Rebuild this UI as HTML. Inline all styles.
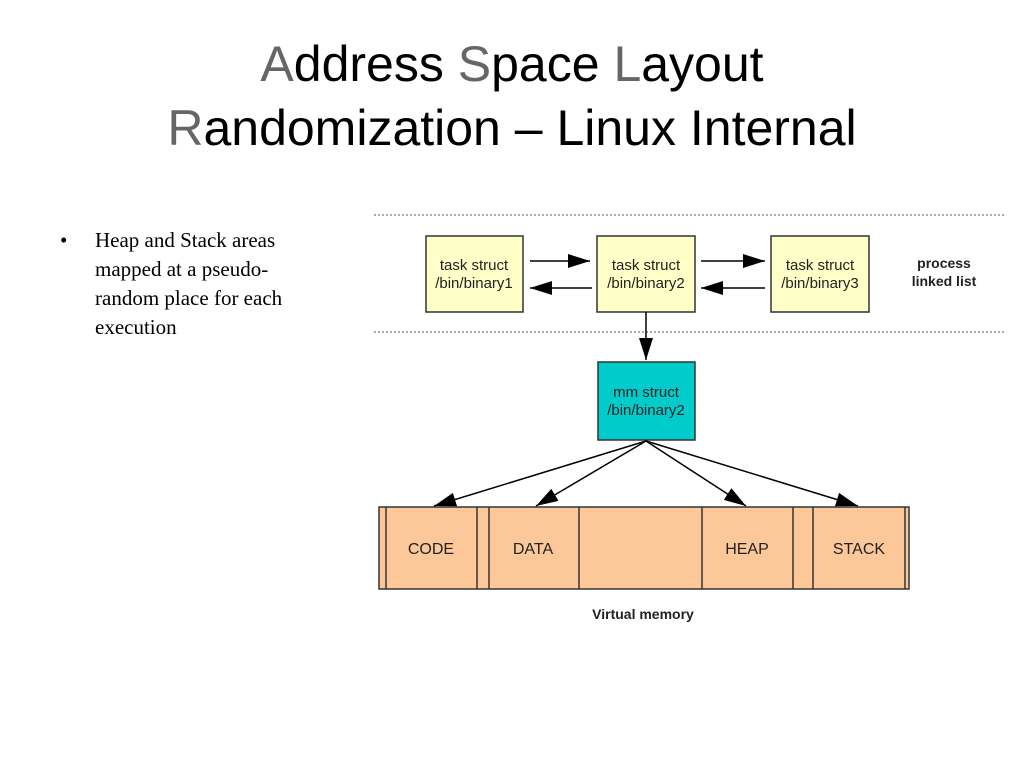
<!DOCTYPE html>
<html><head><meta charset="utf-8"><style>
body{margin:0;width:1024px;height:768px;background:#fff;position:relative;overflow:hidden;font-family:"Liberation Sans",sans-serif}
.t{position:absolute;left:0;width:1024px;text-align:center;font-size:50px;color:#000;line-height:62px}
.g{color:#666}
.b{position:absolute;left:60px;top:226px;font-family:"Liberation Serif",serif;font-size:21px;line-height:29px;color:#000}
</style></head><body>
<div class="t" style="top:33px"><span class="g">A</span>ddress <span class="g">S</span>pace <span class="g">L</span>ayout</div>
<div class="t" style="top:97px"><span class="g">R</span>andomization – Linux Internal</div>
<div class="b">•</div>
<div class="b" style="left:95px">Heap and Stack areas<br>mapped at a pseudo-<br>random place for each<br>execution</div>
<svg width="1024" height="768" style="position:absolute;left:0;top:0" font-family="Liberation Sans, sans-serif">
<defs><marker id="a" markerWidth="10" markerHeight="8" refX="10" refY="4" orient="auto" markerUnits="userSpaceOnUse"><path d="M0,0L10,4L0,8z" fill="#000"/></marker>
<marker id="b" markerWidth="22" markerHeight="14" refX="22" refY="7" orient="auto" markerUnits="userSpaceOnUse"><path d="M0,0L22,7L0,14z" fill="#000"/></marker></defs>
<line x1="374" y1="215" x2="1005" y2="215" stroke="#555" stroke-dasharray="2,2"/>
<line x1="374" y1="332" x2="1005" y2="332" stroke="#555" stroke-dasharray="2,2"/>
<g stroke="#333" stroke-width="1.5" fill="#ffffc8">
<rect x="426" y="236" width="97" height="76"/><rect x="597" y="236" width="98" height="76"/><rect x="771" y="236" width="98" height="76"/>
<rect x="598" y="362" width="97" height="78" fill="#00cccc"/></g>
<g font-size="15" fill="#222" text-anchor="middle">
<text x="474" y="270">task struct</text><text x="474" y="288">/bin/binary1</text>
<text x="646" y="270">task struct</text><text x="646" y="288">/bin/binary2</text>
<text x="820" y="270">task struct</text><text x="820" y="288">/bin/binary3</text>
<text x="646" y="397">mm struct</text><text x="646" y="415">/bin/binary2</text>
<text x="944" y="268" font-weight="bold" font-size="14">process</text><text x="944" y="286" font-weight="bold" font-size="14">linked list</text>
</g>
<g stroke="#000" stroke-width="1.5">
<line x1="530" y1="261" x2="590" y2="261" marker-end="url(#b)"/>
<line x1="592" y1="288" x2="530" y2="288" marker-end="url(#b)"/>
<line x1="701" y1="261" x2="765" y2="261" marker-end="url(#b)"/>
<line x1="765" y1="288" x2="701" y2="288" marker-end="url(#b)"/>
<line x1="646" y1="312" x2="646" y2="360" marker-end="url(#b)"/>
<line x1="646" y1="441" x2="434" y2="506" marker-end="url(#b)"/>
<line x1="646" y1="441" x2="536" y2="506" marker-end="url(#b)"/>
<line x1="646" y1="441" x2="746" y2="506" marker-end="url(#b)"/>
<line x1="646" y1="441" x2="858" y2="506" marker-end="url(#b)"/>
</g>
<rect x="379" y="507" width="530" height="82" fill="#fcc899" stroke="#333" stroke-width="1.5"/>
<g stroke="#333" stroke-width="1.5">
<line x1="386" y1="507" x2="386" y2="589"/><line x1="477" y1="507" x2="477" y2="589"/><line x1="489" y1="507" x2="489" y2="589"/>
<line x1="579" y1="507" x2="579" y2="589"/><line x1="702" y1="507" x2="702" y2="589"/><line x1="793" y1="507" x2="793" y2="589"/>
<line x1="813" y1="507" x2="813" y2="589"/><line x1="905" y1="507" x2="905" y2="589"/></g>
<g font-size="16" fill="#222" text-anchor="middle">
<text x="431" y="554">CODE</text><text x="533" y="554">DATA</text><text x="747" y="554">HEAP</text><text x="859" y="554">STACK</text>
<text x="643" y="619" font-size="14" font-weight="bold">Virtual memory</text></g>
</svg>
</body></html>
